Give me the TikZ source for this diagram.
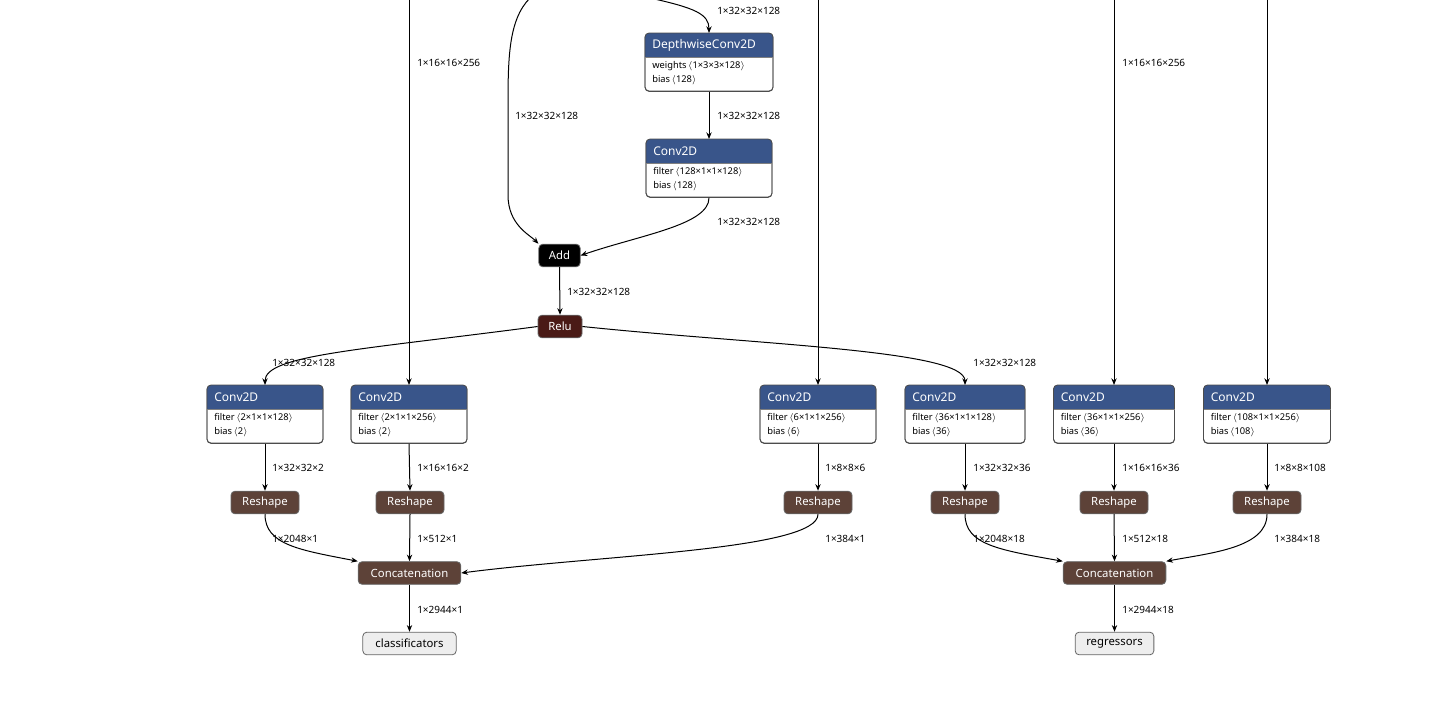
\documentclass[tikz,border=0pt]{standalone}
\usepackage{fontspec}
\setmainfont{Noto Sans}
\usetikzlibrary{arrows.meta}
\definecolor{hdr}{HTML}{39558A}
\definecolor{shp}{HTML}{5D4238}
\definecolor{relu}{HTML}{4A1A16}
\definecolor{outf}{HTML}{EEEEEE}
\tikzset{
  edge/.style={draw=black, line width=0.75pt, -{Stealth[length=5pt,width=4pt]}},
  lbl/.style={font=\fontsize{7.5}{9}\selectfont, anchor=west, inner sep=0pt},
  box/.style={draw=black!70, line width=0.6pt, rounded corners=3pt, fill=white, minimum height=43.5pt, inner sep=0pt},
  op/.style={draw=black!60, line width=0.6pt, rounded corners=3pt, minimum height=17pt, inner sep=0pt,
    text=white, font=\fontsize{8.5}{10}\selectfont},
  outp/.style={draw=black!60, line width=0.6pt, rounded corners=3pt, fill=outf, minimum height=17pt, inner sep=0pt,
    font=\fontsize{8.5}{10}\selectfont},
}
% name, cx, top, width, title, line1, line2
\newcommand\opbox[7]{%
  \node[box, minimum width=#4*0.75pt, anchor=north] (#1) at (#2,#3) {};
  \begin{scope}
    \clip[rounded corners=3pt] ({#2-#4/2},#3) rectangle ({#2+#4/2},#3+58);
    \fill[hdr] ({#2-#4/2},#3) rectangle ({#2+#4/2},#3+24);
  \end{scope}
  \draw[draw=black!70, line width=0.6pt, rounded corners=3pt] ({#2-#4/2},#3) rectangle ({#2+#4/2},#3+58);
  \draw[black!50, line width=0.4pt] ({#2-#4/2},#3+24) -- ({#2+#4/2},#3+24);
  \node[anchor=west, inner sep=0pt, text=white, font=\fontsize{9}{11}\selectfont] at ({#2-#4/2+7},#3+12) {#5};
  \node[anchor=west, inner sep=0pt, font=\fontsize{7}{8}\selectfont] at ({#2-#4/2+7},#3+33) {#6};
  \node[anchor=west, inner sep=0pt, font=\fontsize{7}{8}\selectfont] at ({#2-#4/2+7},#3+47) {#7};
}
\newcommand\ang[1]{\,$\langle$#1$\rangle$}
\begin{document}
\begin{tikzpicture}[x=0.75pt, y=-0.75pt]
  \useasboundingbox (0,0) rectangle (1433,707);

  % upper block
  \opbox{dw}{709}{33}{128}{DepthwiseConv2D}{\textbf{weights}\ang{1×3×3×128}}{\textbf{bias}\ang{128}}
  \opbox{cv}{709}{139}{126}{Conv2D}{\textbf{filter}\ang{128×1×1×128}}{\textbf{bias}\ang{128}}
  \node[op, fill=black, minimum width=31pt] (add) at (559.5,255.5) {Add};
  \node[op, fill=relu, minimum width=33pt] (relu) at (560,326.5) {Relu};

  % heads
  \opbox{c1}{265}{385}{116}{Conv2D}{\textbf{filter}\ang{2×1×1×128}}{\textbf{bias}\ang{2}}
  \opbox{c2}{409}{385}{116}{Conv2D}{\textbf{filter}\ang{2×1×1×256}}{\textbf{bias}\ang{2}}
  \opbox{c3}{818}{385}{116}{Conv2D}{\textbf{filter}\ang{6×1×1×256}}{\textbf{bias}\ang{6}}
  \opbox{c4}{965}{385}{120}{Conv2D}{\textbf{filter}\ang{36×1×1×128}}{\textbf{bias}\ang{36}}
  \opbox{c5}{1114}{385}{121}{Conv2D}{\textbf{filter}\ang{36×1×1×256}}{\textbf{bias}\ang{36}}
  \opbox{c6}{1267}{385}{127}{Conv2D}{\textbf{filter}\ang{108×1×1×256}}{\textbf{bias}\ang{108}}

  \foreach \n/\x in {r1/265, r2/410, r3/818, r4/965, r5/1114, r6/1267}
    \node[op, fill=shp, minimum width=51pt] (\n) at (\x,502.5) {Reshape};

  \node[op, fill=shp, minimum width=77pt] (cat1) at (409.5,573) {Concatenation};
  \node[op, fill=shp, minimum width=77pt] (cat2) at (1114.5,573) {Concatenation};
  \node[outp, minimum width=70pt] (o1) at (409.5,643.5) {classificators};
  \node[outp, minimum width=59pt] (o2) at (1114.5,643.5) {regressors};

  % free ends at the top
  \coordinate (t1) at (409,-2);
  \coordinate (t2) at (818,-2);
  \coordinate (t3) at (1114,-2);
  \coordinate (t4) at (1267,-2);
  \coordinate (t5) at (530,-2);
  \coordinate (t6) at (650,-2);

  % edges
  \draw[edge] (t1) -- (c2.north);
  \draw[edge] (t2) -- (c3.north);
  \draw[edge] (t3) -- (c5.north);
  \draw[edge] (t4) -- (c6.north);
  \draw[edge] (t6) .. controls (695,8) and (709,14) .. (dw.north);
  \draw[edge] (t5) .. controls (508,20) and (508,60) .. (508,110)
    -- (508,195) .. controls (508,225) and (530,235) .. (add.north west);
  \draw[edge] (dw.south) -- (cv.north);
  \draw[edge] (cv.south) .. controls (709,225) and (640,235) .. (add.east);
  \draw[edge] (add.south) -- (relu.north);
  \draw[edge] (relu.west) .. controls (360,350) and (265,355) .. (c1.north);
  \draw[edge] (relu.east) .. controls (760,345) and (965,350) .. (c4.north);

  \foreach \c/\r in {c1/r1, c2/r2, c3/r3, c4/r4, c5/r5, c6/r6}
    \draw[edge] (\c.south) -- (\r.north);

  \draw[edge] (r1.south) .. controls (265,545) and (300,550) .. (cat1.north west);
  \draw[edge] (r2.south) -- (cat1.north);
  \draw[edge] (r3.south) .. controls (818,550) and (600,555) .. (cat1.east);
  \draw[edge] (r4.south) .. controls (965,545) and (1000,550) .. (cat2.north west);
  \draw[edge] (r5.south) -- (cat2.north);
  \draw[edge] (r6.south) .. controls (1267,548) and (1210,553) .. (cat2.north east);
  \draw[edge] (cat1.south) -- (o1.north);
  \draw[edge] (cat2.south) -- (o2.north);

  % labels
  \node[lbl] at (417,63) {1×16×16×256};
  \node[lbl] at (1122,63) {1×16×16×256};
  \node[lbl] at (717,11) {1×32×32×128};
  \node[lbl] at (515,116) {1×32×32×128};
  \node[lbl] at (717,116) {1×32×32×128};
  \node[lbl] at (717,222) {1×32×32×128};
  \node[lbl] at (567,292) {1×32×32×128};
  \node[lbl] at (272,363) {1×32×32×128};
  \node[lbl] at (973,363) {1×32×32×128};
  \node[lbl] at (272,468) {1×32×32×2};
  \node[lbl] at (417,468) {1×16×16×2};
  \node[lbl] at (825,468) {1×8×8×6};
  \node[lbl] at (973,468) {1×32×32×36};
  \node[lbl] at (1122,468) {1×16×16×36};
  \node[lbl] at (1274,468) {1×8×8×108};
  \node[lbl] at (272,539) {1×2048×1};
  \node[lbl] at (417,539) {1×512×1};
  \node[lbl] at (825,539) {1×384×1};
  \node[lbl] at (973,539) {1×2048×18};
  \node[lbl] at (1122,539) {1×512×18};
  \node[lbl] at (1274,539) {1×384×18};
  \node[lbl] at (417,610) {1×2944×1};
  \node[lbl] at (1122,610) {1×2944×18};
\end{tikzpicture}
\end{document}
